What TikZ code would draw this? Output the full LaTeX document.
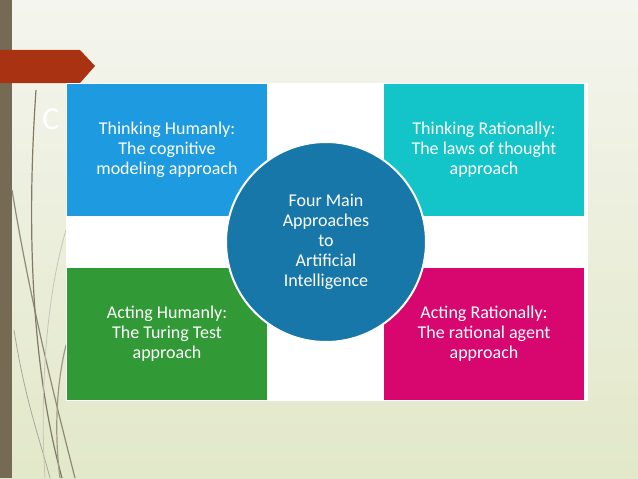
\documentclass[tikz,border=0pt]{standalone}
\usepackage{fontspec}
\setmainfont{Carlito}
\begin{document}
\begin{tikzpicture}[x=0.75pt,y=-0.75pt,
  box/.style={draw=none,minimum width=200*0.75pt,minimum height=132*0.75pt,inner sep=0pt,text=white,font=\fontsize{13.5}{15}\selectfont,align=center},
  curve/.style={draw=#1,line width=0.9pt}]
\definecolor{bgA}{HTML}{F4F5EE}\definecolor{bgB}{HTML}{E2E8C9}
\definecolor{strip}{HTML}{756B55}\definecolor{banner}{HTML}{A93213}
\definecolor{cblue}{HTML}{1E9BE0}\definecolor{ccyan}{HTML}{13C5C8}
\definecolor{cgreen}{HTML}{319A36}\definecolor{cmag}{HTML}{D8066F}
\definecolor{ccirc}{HTML}{1777A8}
\useasboundingbox (0,0) rectangle (638,478);
\shade[top color=bgA,bottom color=bgB] (0,0) rectangle (638,478);
\fill[strip] (0,0) rectangle (12,478);
% decorative curves
\draw[curve=strip!80] (12,190) .. controls (30,300) and (55,400) .. (75,478);
\draw[curve=strip!90] (36,90) .. controls (25,250) and (35,380) .. (62,478);
\draw[curve=strip!60,line width=0.6pt] (14,330) .. controls (25,400) and (40,440) .. (50,478);
\draw[curve=strip!40,line width=0.6pt] (66,230) .. controls (45,300) and (40,400) .. (45,478);
\draw[curve=strip!70] (66,345) .. controls (55,390) and (55,440) .. (60,478);
\fill[banner] (0,50) -- (80,50) -- (95,66) -- (80,83) -- (0,83) -- cycle;
\fill[white] (66,83) rectangle (588,401);
\node[box,fill=cblue] (th) at (167,150) {Thinking Humanly:\\The cognitive\\modeling approach};
\node[box,fill=ccyan] (tr) at (484,150) {Thinking Rationally:\\The laws of thought\\approach};
\node[box,fill=cgreen] (ah) at (167,334) {Acting Humanly:\\The Turing Test\\approach};
\node[box,fill=cmag] (ar) at (484,334) {Acting Rationally:\\The rational agent\\approach};
\node[circle,fill=ccirc,draw=white,line width=1.5pt,minimum size=200*0.75pt,text=white,align=center,font=\fontsize{13.5}{15}\selectfont] (c) at (326,242) {Four Main\\Approaches\\to\\Artificial\\Intelligence};
\node[text=white,font=\fontsize{24}{24}\selectfont] (cc) at (51,119) {C};
\end{tikzpicture}
\end{document}
